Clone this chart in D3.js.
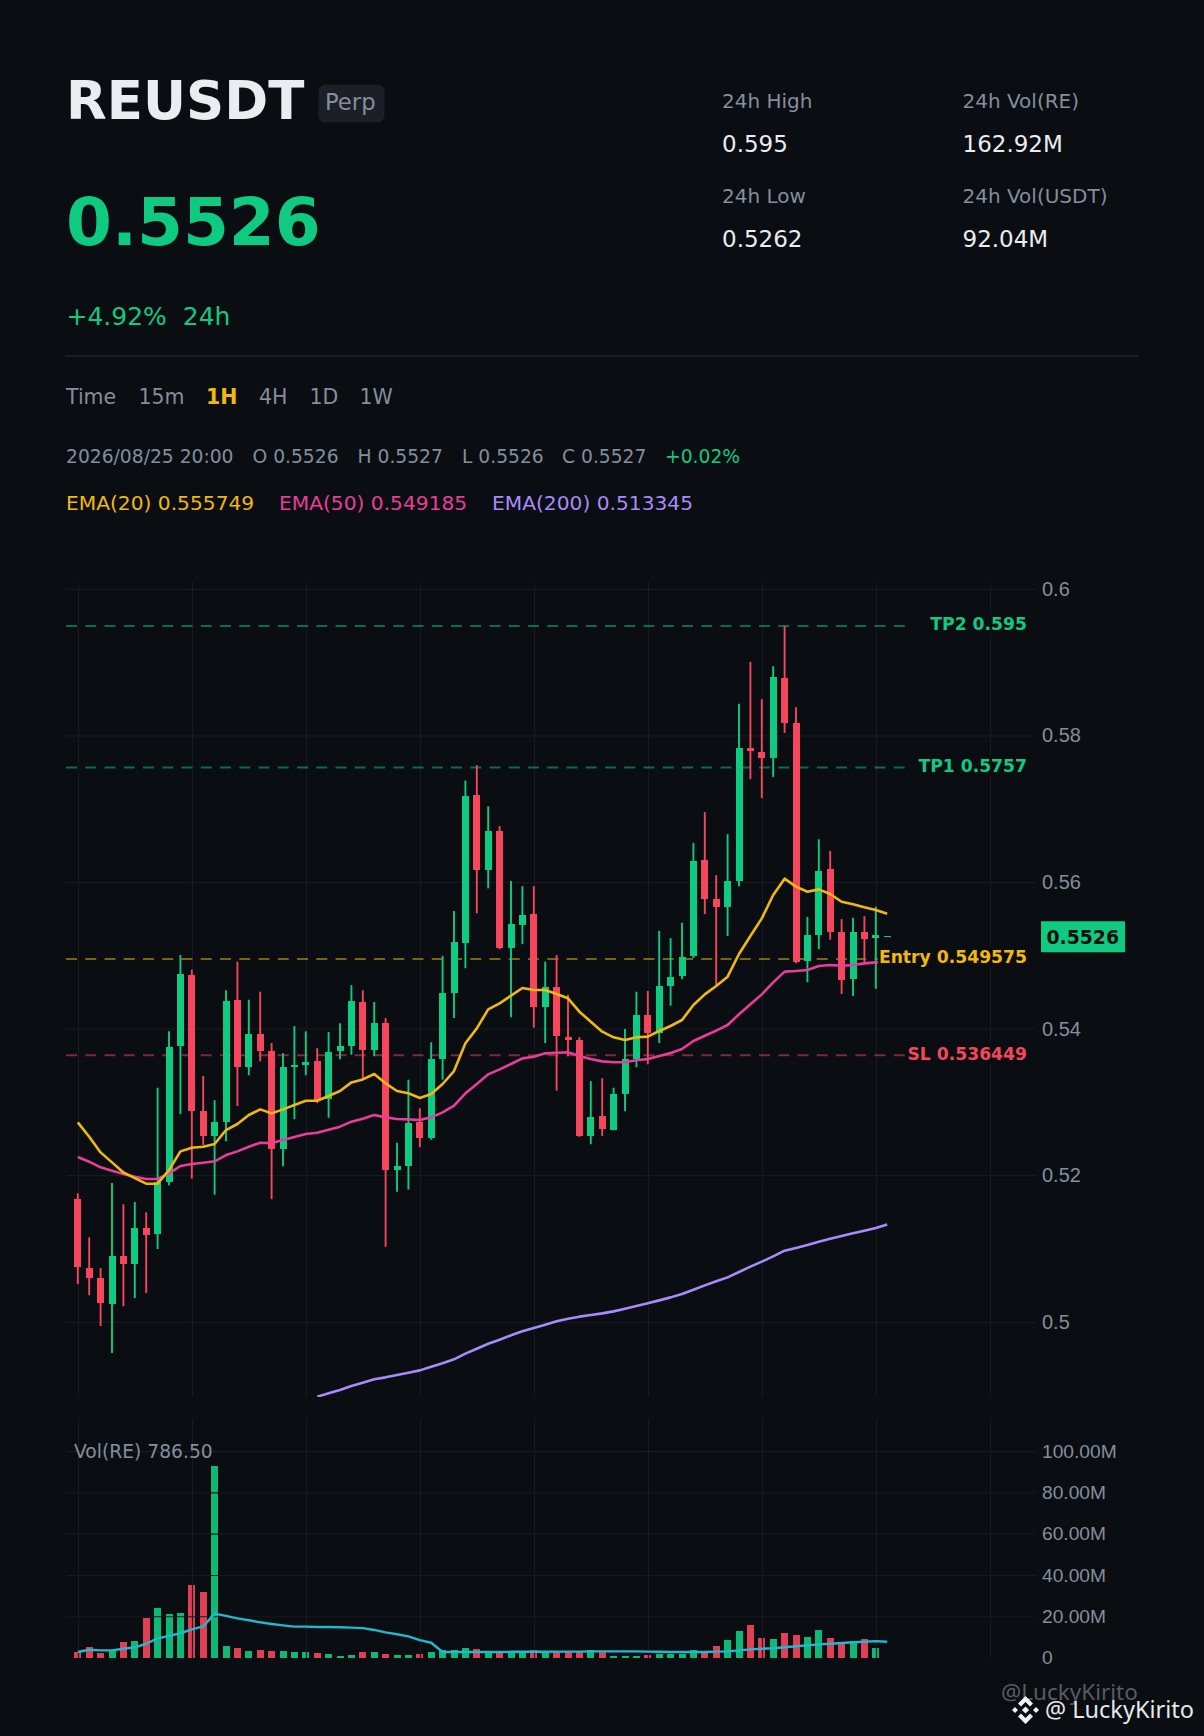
<!DOCTYPE html>
<html>
<head>
<meta charset="utf-8">
<title>REUSDT Perp</title>
<script src="https://cdn.jsdelivr.net/npm/d3@7"></script>
<style>
  html, body { margin: 0; padding: 0; background: #0a0d11; }
  svg { display: block; font-family: "DejaVu Sans", sans-serif; }
  .domain { display: none; }
</style>
</head>
<body>
<script>
const width = 1204;
const height = 1736;

const bg = "#0a0d11";
const gridColor = "#161a21";
const gray = "#848e9c";
const up = "#0ecb81";
const down = "#f6465d";
const gold = "#f0b90b";
const pink = "#e83e9a";
const violet = "#a78bfa";
const cyan = "#22b8cf";

// one entry per 1h candle
const opens  = [.5168,.5074,.5060,.5025,.5090,.5079,.5129,.5120,.5191,.5377,.5474,.5288,.5254,.5273,.5440,.5348,.5393,.5370,.5236,.5348,.5351,.5356,.5305,.5370,.5377,.5437,.5372,.5408,.5208,.5213,.5273,.5251,.5359,.5449,.5518,.5719,.5617,.5670,.5511,.5542,.5557,.5430,.5457,.5389,.5385,.5254,.5281,.5262,.5311,.5359,.5419,.5395,.5459,.5472,.5500,.5631,.5577,.5567,.5602,.5784,.5778,.5770,.5879,.5818,.5493,.5528,.5618,.5532,.5468,.5532,.5524,.5526];
const highs  = [.5176,.5116,.5074,.5190,.5161,.5164,.5150,.5320,.5397,.5501,.5481,.5336,.5303,.5453,.5492,.5440,.5451,.5381,.5367,.5404,.5397,.5374,.5396,.5408,.5460,.5453,.5437,.5415,.5245,.5331,.5292,.5382,.5500,.5561,.5739,.5760,.5704,.5677,.5602,.5595,.5595,.5492,.5501,.5447,.5389,.5329,.5333,.5320,.5400,.5451,.5452,.5534,.5524,.5545,.5654,.5696,.5610,.5666,.5844,.5901,.5850,.5895,.5950,.5839,.5553,.5659,.5643,.5550,.5552,.5554,.5567,.5527];
const lows   = [.5052,.5037,.4995,.4958,.5022,.5033,.5040,.5100,.5187,.5284,.5196,.5242,.5174,.5247,.5295,.5337,.5356,.5168,.5213,.5277,.5337,.5299,.5279,.5359,.5365,.5331,.5363,.5103,.5178,.5181,.5239,.5249,.5331,.5415,.5483,.5558,.5592,.5509,.5416,.5516,.5402,.5381,.5316,.5363,.5253,.5243,.5254,.5262,.5288,.5348,.5352,.5381,.5432,.5468,.5497,.5557,.5460,.5527,.5595,.5741,.5715,.5744,.5804,.5490,.5464,.5509,.5522,.5448,.5445,.5490,.5455,.5526];
const closes = [.5075,.5060,.5026,.5090,.5079,.5129,.5119,.5191,.5376,.5475,.5288,.5254,.5273,.5438,.5348,.5393,.5370,.5236,.5348,.5351,.5355,.5303,.5369,.5377,.5438,.5372,.5408,.5208,.5213,.5272,.5251,.5359,.5449,.5519,.5718,.5617,.5670,.5511,.5543,.5556,.5430,.5457,.5391,.5385,.5254,.5280,.5264,.5311,.5359,.5419,.5395,.5459,.5471,.5498,.5629,.5577,.5567,.5602,.5784,.5779,.5770,.5880,.5818,.5492,.5528,.5616,.5532,.5467,.5532,.5523,.5528,.5527];

const ema20 = [.52728,.52532,.52318,.52182,.52045,.51968,.51891,.51891,.52077,.52332,.52382,.52396,.52432,.52623,.52705,.52828,.52905,.52850,.52905,.52964,.53023,.53023,.53087,.53155,.53273,.53314,.53387,.53260,.53155,.53124,.53060,.53114,.53251,.53428,.53806,.54010,.54270,.54352,.54456,.54561,.54533,.54533,.54479,.54420,.54238,.54101,.53965,.53888,.53851,.53888,.53897,.53974,.54042,.54124,.54329,.54474,.54588,.54715,.55025,.55270,.55511,.55830,.56052,.55943,.55874,.55906,.55843,.55738,.55702,.55661,.55624,.555749];
const ema50 = [.52255,.52191,.52114,.52068,.52023,.51986,.51955,.51955,.52032,.52132,.52159,.52177,.52196,.52282,.52332,.52396,.52450,.52446,.52487,.52528,.52569,.52587,.52628,.52669,.52737,.52778,.52828,.52796,.52773,.52769,.52760,.52796,.52864,.52955,.53124,.53251,.53383,.53451,.53524,.53601,.53624,.53669,.53678,.53683,.53633,.53592,.53560,.53547,.53547,.53574,.53592,.53633,.53674,.53728,.53838,.53910,.53979,.54056,.54202,.54338,.54474,.54638,.54784,.54792,.54806,.54860,.54874,.54865,.54874,.54897,.54910,.549185];
// below the visible range for the first candles
const ema200 = [null,null,null,null,null,null,null,null,null,null,null,null,null,null,null,null,null,null,null,null,null,.48985,.49031,.49076,.49131,.49176,.49222,.49249,.49281,.49313,.49344,.49394,.49440,.49495,.49572,.49640,.49708,.49763,.49822,.49877,.49922,.49968,.50013,.50049,.50077,.50099,.50122,.50149,.50186,.50222,.50259,.50299,.50340,.50386,.50445,.50504,.50559,.50613,.50686,.50759,.50827,.50900,.50977,.51014,.51054,.51100,.51141,.51177,.51214,.51250,.51286,.513345];

// volume in millions
const volumes = [2.9,5.3,2.6,3.9,7.8,8.2,19.4,24.2,21.3,21.8,35.4,32,93,5.8,4.8,3.4,3.9,3.4,3.4,2.9,2.9,2.4,1.9,1,1.5,2.9,2.9,1.9,1.5,1.5,1.9,2.9,3.9,3.9,4.8,4.4,3.2,3.2,3.2,3.2,3.9,3.2,3.2,3.2,3.2,3.9,3.2,1,1,1,1.5,1.9,1.9,1.9,3.9,3.2,5.8,8.7,13.1,16,9.7,9.2,12.1,11.1,10.2,13.6,9.7,7.8,8.2,9.2,4.8,0.0008];
const volMA = [2.9,4,3.7,3.7,4.5,5.2,6.9,9.5,10.7,12,13.9,15.3,21.5,20.4,19.2,18.3,17.3,16.5,15.8,15.2,15.2,15,15,14.9,14.7,14.5,13.6,12.4,11.5,10.5,8.7,7.4,2.9,2.9,2.9,2.9,2.9,2.9,3,3,3,3,3.1,3.1,3.1,3.2,3.2,3.2,3.2,3.2,3.1,3,2.9,2.9,2.9,2.9,3.1,3.2,3.7,4.2,4.5,4.7,5.2,5.7,6.1,6.6,6.9,7.3,7.6,7.9,8.2,7.9];

const priceTicks = [.6,.58,.56,.54,.52,.5];
const volTicks = [0,20,40,60,80,100];
const timeTicks = [0,10,20,30,40,50,60,70,80,90];

const levelNames = ["TP2 0.595", "TP1 0.5757", "Entry 0.549575", "SL 0.536449"];
const levelPrices = [.595, .5757, .549575, .536449];
const levelColors = [up, up, gold, down];

const statLabels = ["24h High", "24h Low", "24h Vol(RE)", "24h Vol(USDT)"];
const statValues = ["0.595", "0.5262", "162.92M", "92.04M"];
const intervals = ["Time", "15m", "1H", "4H", "1D", "1W"];
const ohlcTexts = ["2026/08/25 20:00", "O 0.5526", "H 0.5527", "L 0.5526", "C 0.5527"];
const emaTexts = ["EMA(20) 0.555749", "EMA(50) 0.549185", "EMA(200) 0.513345"];

const lastPrice = .5526;

const svg = d3.select("body").append("svg")
    .attr("width", width)
    .attr("height", height)
    .attr("viewBox", `0 0 ${width} ${height}`);

svg.append("rect").attr("width", width).attr("height", height).attr("fill", bg);

function label(x, y, text, size, color, weight) {
    return svg.append("text")
        .attr("x", x).attr("y", y)
        .attr("font-size", size)
        .attr("font-weight", weight || "normal")
        .attr("fill", color)
        .text(text);
}

// header
label(66, 118.5, "REUSDT", 53, "#eaecef", "bold");
svg.append("rect").attr("x", 318.5).attr("y", 84.5).attr("width", 66).attr("height", 38).attr("rx", 7).attr("fill", "#1c1f26");
label(325, 109.5, "Perp", 22.7, gray);
label(66, 245, "0.5526", 66, up, "bold");
label(66.5, 325, "+4.92%  24h", 25, up).style("white-space", "pre");
svg.append("line").attr("x1", 65).attr("x2", 1139).attr("y1", 356).attr("y2", 356).attr("stroke", "#1e2533").attr("stroke-width", 1.6);

const statX = [722, 722, 962.5, 962.5];
const statY = [107.5, 203, 107.5, 203];
statLabels.forEach((d, i) => label(statX[i], statY[i], d, 20, gray));
statValues.forEach((d, i) => label(statX[i], statY[i] + 44, d, 23, "#eaecef"));

const intervalX = [66, 138.5, 206, 259, 309.5, 359.5];
intervals.forEach((d, i) => label(intervalX[i], 403.5, d, 20.5, d == "1H" ? gold : gray, d == "1H" ? "bold" : "normal"));

const ohlcX = [66, 252.5, 357.5, 462, 562];
ohlcTexts.forEach((d, i) => label(ohlcX[i], 462.5, d, 18.7, gray));
label(665, 462.5, "+0.02%", 18.7, up);

const emaX = [66, 279, 492];
const emaColors = [gold, pink, violet];
emaTexts.forEach((d, i) => label(emaX[i], 510, d, 20.2, emaColors[i]));

// scales
const x = d3.scaleLinear().domain([0, 71]).range([77.8, 887.2]);
const y = d3.scaleLinear().domain([.6, .5]).range([589.3, 1322.3]);
const yVol = d3.scaleLinear().domain([0, 100]).range([1658, 1451.7]);

const mainTop = 582;
const mainBottom = 1397;
const volTop = 1418;
const volBottom = 1658;
const gridLeft = 66;
const gridRight = 1035;
const gridShift = .7;
const bodyW = 7;

svg.append("clipPath").attr("id", "mainClip").append("rect")
    .attr("x", gridLeft).attr("y", mainTop).attr("width", gridRight - gridLeft).attr("height", mainBottom - mainTop);

function drawGrid(yScale, ticks, top, bottom) {
    const g = svg.append("g").attr("stroke", gridColor).attr("stroke-width", 1.2);
    g.selectAll(".h").data(ticks).join("line")
        .attr("x1", gridLeft).attr("x2", gridRight)
        .attr("y1", d => yScale(d)).attr("y2", d => yScale(d));
    g.selectAll(".v").data(timeTicks.filter(d => x(d) < gridRight)).join("line")
        .attr("x1", d => x(d) + gridShift).attr("x2", d => x(d) + gridShift)
        .attr("y1", top).attr("y2", bottom);
}

// main pane
drawGrid(y, priceTicks, mainTop, mainBottom);

const levelEnd = 905;
svg.append("g").selectAll("line").data(levelPrices).join("line")
    .attr("x1", gridLeft).attr("x2", levelEnd)
    .attr("y1", d => y(d)).attr("y2", d => y(d))
    .attr("stroke", (d, i) => levelColors[i])
    .attr("stroke-opacity", .5)
    .attr("stroke-width", 2)
    .attr("stroke-dasharray", "11 8.25");

const candles = svg.append("g").attr("clip-path", "url(#mainClip)");
const candleColor = i => closes[i] >= opens[i] ? up : down;

candles.selectAll(".wick").data(opens).join("line")
    .attr("class", "wick")
    .attr("x1", (d, i) => x(i)).attr("x2", (d, i) => x(i))
    .attr("y1", (d, i) => y(highs[i])).attr("y2", (d, i) => y(lows[i]))
    .attr("stroke", (d, i) => candleColor(i))
    .attr("stroke-width", 1.9);

candles.selectAll(".body").data(opens).join("rect")
    .attr("class", "body")
    .attr("x", (d, i) => x(i) - bodyW / 2)
    .attr("width", bodyW)
    .attr("y", (d, i) => y(Math.max(opens[i], closes[i])))
    .attr("height", (d, i) => Math.max(1, Math.abs(y(opens[i]) - y(closes[i]))))
    .attr("fill", (d, i) => candleColor(i))
    .attr("shape-rendering", "crispEdges");

const priceLine = d3.line()
    .defined(d => d != null)
    .x((d, i) => x(i))
    .y(d => y(d));

[[ema200, violet], [ema50, pink], [ema20, gold]].forEach(([series, color]) => {
    candles.append("path")
        .attr("d", priceLine(series))
        .attr("fill", "none")
        .attr("stroke", color)
        .attr("stroke-width", 2.6)
        .attr("stroke-linejoin", "round");
});

// level labels sit on a background patch
levelNames.forEach((d, i) => {
    const t = label(1027, y(levelPrices[i]) + 4.5, d, 17.2, levelColors[i], "bold").attr("text-anchor", "end");
    const box = t.node().getBBox();
    svg.insert("rect", () => t.node())
        .attr("x", box.x - 1).attr("y", box.y)
        .attr("width", box.width + 2).attr("height", box.height)
        .attr("fill", bg);
});

const axisPrice = d3.axisRight(y).tickValues(priceTicks).tickSize(0).tickPadding(0)
    .tickFormat(d => String(+d.toFixed(2)));
const gAxis = svg.append("g").attr("transform", "translate(1042,0)").call(axisPrice);
gAxis.selectAll("text").attr("font-size", 20).attr("font-family", "inherit").attr("fill", gray).attr("dy", ".3em");

svg.append("rect").attr("x", 1041).attr("y", y(lastPrice) - 15.5).attr("width", 84).attr("height", 31).attr("fill", up);
label(1046.5, y(lastPrice) + 7, "0.5526", 18.8, "#0b0e11", "bold");

// volume pane
const volG = svg.append("g");
volG.selectAll("rect").data(volumes).join("rect")
    .attr("x", (d, i) => x(i) - bodyW / 2)
    .attr("width", bodyW)
    .attr("y", d => yVol(d))
    .attr("height", d => yVol(0) - yVol(d))
    .attr("fill", (d, i) => candleColor(i))
    .attr("fill-opacity", .9)
    .attr("shape-rendering", "crispEdges");

drawGrid(yVol, volTicks.slice(1), volTop, volBottom);

const volLine = d3.line().x((d, i) => x(i)).y(d => yVol(d));
svg.append("path")
    .attr("d", volLine(volMA))
    .attr("fill", "none")
    .attr("stroke", cyan)
    .attr("stroke-width", 2.4)
    .attr("stroke-linejoin", "round");

label(74, 1457.5, "Vol(RE) 786.50", 18.7, gray);

const axisVol = d3.axisRight(yVol).tickValues(volTicks).tickSize(0).tickPadding(0)
    .tickFormat(d => d ? d.toFixed(2) + "M" : "0");
const gVol = svg.append("g").attr("transform", "translate(1042,0)").call(axisVol);
gVol.selectAll("text").attr("font-size", 19.2).attr("font-family", "inherit").attr("fill", gray).attr("dy", ".3em");

// watermarks
label(1001, 1700, "@LuckyKirito", 22.5, "#585c62").attr("font-family", "Noto Sans");
label(1045, 1718, "@ LuckyKirito", 23.5, "#e6e8ea").attr("font-family", "Noto Sans");
const logo = svg.append("g").attr("transform", "translate(1025.5,1710)").attr("fill", "#f0f1f2");
logo.append("path").attr("d", "M0,-14 L7.5,-6.5 L4.5,-3.5 L0,-8 L-4.5,-3.5 L-7.5,-6.5 Z");
logo.append("path").attr("d", "M0,14 L7.5,6.5 L4.5,3.5 L0,8 L-4.5,3.5 L-7.5,6.5 Z");
logo.append("path").attr("d", "M0,-3.6 L3.6,0 L0,3.6 L-3.6,0 Z");
logo.append("path").attr("d", "M-10.5,-3 L-7.5,0 L-10.5,3 L-13.5,0 Z");
logo.append("path").attr("d", "M10.5,-3 L13.5,0 L10.5,3 L7.5,0 Z");
</script>
</body>
</html>
